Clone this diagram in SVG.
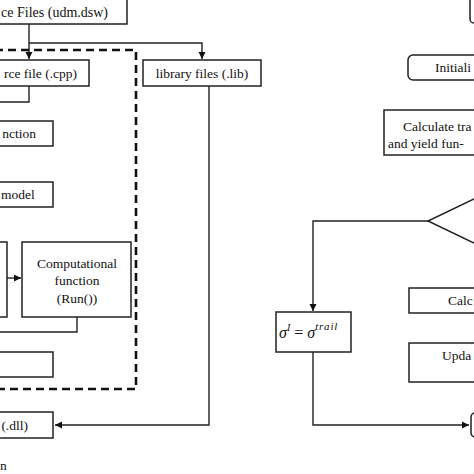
<svg xmlns="http://www.w3.org/2000/svg" width="474" height="474" viewBox="0 0 474 474">
<style>
.box{fill:#fff;stroke:#222;stroke-width:1.5}
.ln{fill:none;stroke:#222;stroke-width:1.4}
.dash{fill:none;stroke:#111;stroke-width:2.6;stroke-dasharray:8,5}
text{font-family:"Liberation Serif","Times New Roman",serif;font-size:13.5px;fill:#111}
</style>
<defs>
<marker id="ah" markerWidth="8" markerHeight="8" refX="7" refY="4" orient="auto" markerUnits="userSpaceOnUse">
<path d="M0,0.5 L7,4 L0,7.5 Z" fill="#111"/>
</marker>
</defs>
<rect width="474" height="474" fill="#fff"/>
<g id="connectors">
<path class="ln" d="M29,24 V59" marker-end="url(#ah)"/>
<path class="ln" d="M29,43 H202 V59" marker-end="url(#ah)"/>
<path class="ln" d="M29,86 V102 H-5"/>
<path class="ln" d="M209,86 V425 H55" marker-end="url(#ah)"/>
<path class="ln" d="M7,278 H21" marker-end="url(#ah)"/>
<path class="ln" d="M77,317 V332 H-5"/>
<path class="ln" d="M428,221 H313 V311" marker-end="url(#ah)"/>
<path class="ln" d="M313,352 V425 H469" marker-end="url(#ah)"/>
<path class="dash" d="M-5,50 H136 V389 H-5"/>
</g>
<g id="source-files">
<rect class="box" x="-10" y="-2" width="137" height="26"/>
<text x="108" y="17" text-anchor="end" style="font-size:14px">ce Files (udm.dsw)</text>
</g>
<g id="source-file-cpp">
<rect class="box" x="-10" y="60" width="99" height="26"/>
<text x="77" y="78" text-anchor="end">rce file (.cpp)</text>
</g>
<g id="library-files">
<rect class="box" x="143" y="60" width="118" height="26"/>
<text x="202" y="78" text-anchor="middle">library files (.lib)</text>
</g>
<g id="function-box">
<rect class="box" x="-10" y="121" width="63" height="25"/>
<text x="36" y="138" text-anchor="end">nction</text>
</g>
<g id="model-box">
<rect class="box" x="-10" y="182" width="63" height="25"/>
<text x="1" y="199">model</text>
</g>
<g id="left-box">
<rect class="box" x="-10" y="242" width="17" height="75"/>
</g>
<g id="computational-function">
<rect class="box" x="22" y="242" width="109" height="75"/>
<text x="77" y="268" text-anchor="middle">Computational</text>
<text x="77" y="285" text-anchor="middle">function</text>
<text x="77" y="303" text-anchor="middle">(Run())</text>
</g>
<g id="empty-box">
<rect class="box" x="-10" y="352" width="63" height="25"/>
</g>
<g id="dll-box">
<rect class="box" x="-10" y="412" width="63" height="26"/>
<text x="28" y="430" text-anchor="end">(.dll)</text>
</g>
<g id="bottom-fragment">
<text x="0" y="470">n</text>
</g>
<g id="top-right">
<rect class="box" x="470" y="-6" width="30" height="29" rx="4"/>
</g>
<g id="initiali">
<rect class="box" x="408" y="55" width="80" height="25" rx="5"/>
<text x="435" y="72">Initiali</text>
</g>
<g id="calculate-trial">
<rect class="box" x="384" y="110" width="100" height="45"/>
<text x="403" y="131">Calculate tra</text>
<text x="388" y="148">and yield fun-</text>
</g>
<g id="decision">
<path class="box" d="M474,199 L428,221 L474,243"/>
</g>
<g id="sigma-box">
<rect class="box" x="276" y="312" width="75" height="40"/>
<text x="279" y="338" style="font-style:italic;font-size:16px">σ<tspan dy="-7" font-size="10">I</tspan><tspan dy="7" style="font-style:normal"> = </tspan>σ<tspan dy="-8" font-size="11" letter-spacing="0.8">trail</tspan></text>
</g>
<g id="calc-box">
<rect class="box" x="409" y="288" width="80" height="25"/>
<text x="448" y="305">Calc</text>
</g>
<g id="update-box">
<rect class="box" x="409" y="343" width="80" height="39"/>
<text x="442" y="360">Upda</text>
</g>
<g id="bottom-right">
<rect class="box" x="471" y="413" width="30" height="24" rx="4"/>
</g>
</svg>
